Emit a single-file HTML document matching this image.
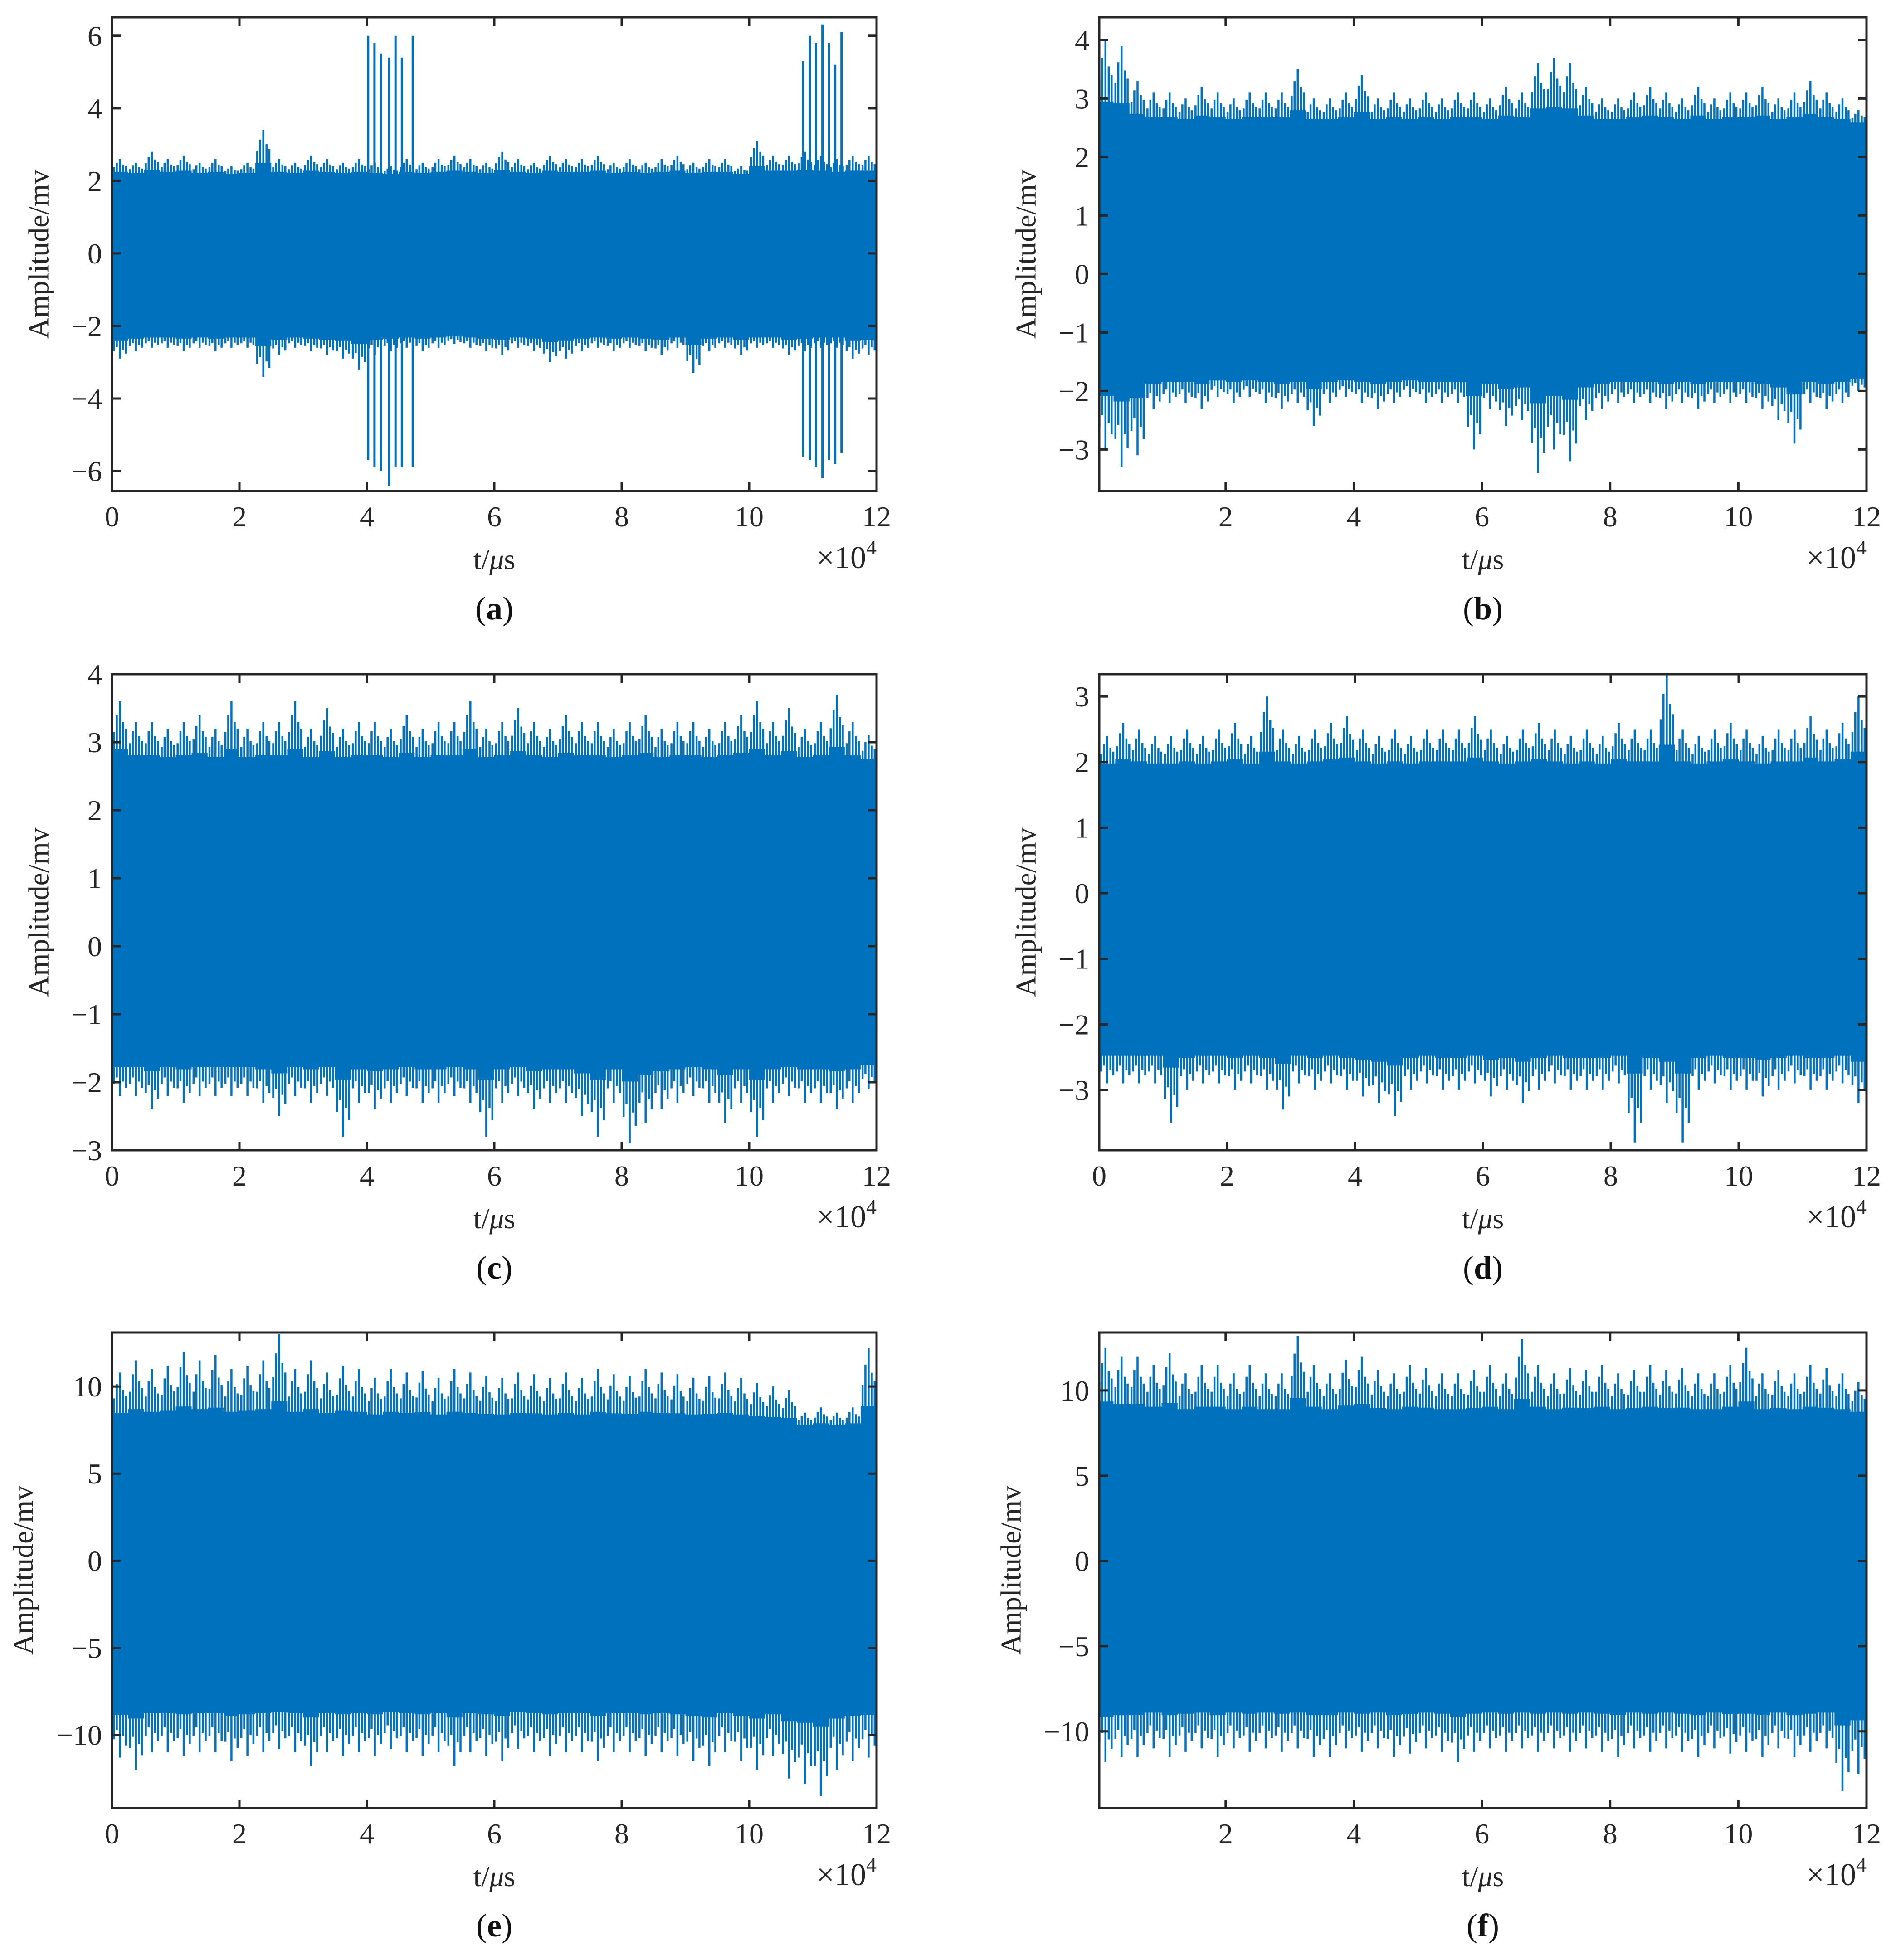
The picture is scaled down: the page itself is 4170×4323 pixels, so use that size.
<!DOCTYPE html>
<html><head><meta charset="utf-8">
<style>
html,body{margin:0;padding:0;background:#fff;}
svg{display:block;font-family:"Liberation Serif",serif;}
</style></head>
<body>
<svg id="fig" width="4170" height="4323" viewBox="0 0 4170 4323" xmlns="http://www.w3.org/2000/svg"></svg>
<script>
// ---------- data (amplitude envelopes, mV, 48 bins over 0..12 x10^4 us) ----------
const xTicksFull = [0,2,4,6,8,10,12];
const xTicksNoZero = [2,4,6,8,10,12];
const yTicksA = [-6,-4,-2,0,2,4,6];
const yTicksB = [-3,-2,-1,0,1,2,3,4];
const yTicksC = [-3,-2,-1,0,1,2,3,4];
const yTicksD = [-3,-2,-1,0,1,2,3];
const yTicksE = [-10,-5,0,5,10];
const yTicksF = [-10,-5,0,5,10];

const upperA = [2.6,2.5,2.8,2.6,2.7,2.5,2.6,2.4,2.5,3.4,2.6,2.5,2.7,2.6,2.5,2.6,2.5,2.4,2.6,2.5,2.6,2.7,2.6,2.5,2.8,2.6,2.5,2.7,2.6,2.6,2.7,2.5,2.6,2.5,2.6,2.7,2.5,2.6,2.6,2.4,3.1,2.7,2.7,2.8,2.7,2.6,2.7,2.7];
const lowerA = [-2.9,-2.7,-2.6,-2.6,-2.7,-2.6,-2.7,-2.6,-2.6,-3.4,-2.8,-2.6,-2.7,-2.8,-2.9,-3.2,-2.8,-2.7,-2.6,-2.7,-2.6,-2.5,-2.6,-2.7,-2.8,-2.6,-2.7,-3.0,-2.9,-2.7,-2.6,-2.7,-2.6,-2.7,-2.8,-2.6,-3.3,-2.7,-2.6,-2.8,-2.6,-2.6,-2.8,-2.7,-2.6,-2.6,-2.9,-2.8];
const coreA = [2.1,-2.2];
const burstT_A = [4.02,4.12,4.22,4.35,4.45,4.55,4.72,10.85,10.95,11.05,11.15,11.25,11.35,11.45];
const burstHi_A = [6.0,5.8,5.5,5.4,6.0,5.4,6.0,5.3,6.0,5.8,6.3,5.8,5.2,6.1];
const burstLo_A = [-5.7,-5.9,-6.0,-6.4,-5.9,-5.9,-5.9,-5.6,-5.7,-5.9,-6.2,-5.7,-5.8,-5.5];

const upperB = [4.0,3.9,3.3,3.1,3.1,3.0,3.2,3.1,3.0,3.1,3.1,3.1,3.5,3.0,3.0,3.1,3.4,3.0,3.1,3.0,3.1,3.0,3.1,3.1,3.0,3.2,3.1,3.6,3.7,3.6,3.2,3.0,3.0,3.1,3.2,3.1,3.0,3.2,3.0,3.1,3.1,3.2,3.0,3.1,3.3,3.1,3.0,2.8];
const lowerB = [-3.0,-3.3,-3.1,-2.3,-2.2,-2.2,-2.3,-2.1,-2.2,-2.1,-2.2,-2.3,-2.2,-2.6,-2.2,-2.1,-2.2,-2.3,-2.2,-2.1,-2.2,-2.2,-2.2,-3.0,-2.3,-2.6,-2.5,-3.4,-3.0,-3.2,-2.5,-2.3,-2.2,-2.2,-2.2,-2.3,-2.2,-2.3,-2.2,-2.2,-2.2,-2.3,-2.5,-2.9,-2.2,-2.3,-2.2,-2.0];
const coreB = [2.5,-1.7];

const upperC = [3.6,3.3,3.3,3.2,3.3,3.4,3.2,3.6,3.2,3.3,3.3,3.6,3.2,3.5,3.2,3.3,3.3,3.2,3.4,3.2,3.3,3.3,3.6,3.2,3.3,3.5,3.3,3.2,3.4,3.3,3.3,3.2,3.3,3.4,3.2,3.3,3.3,3.2,3.3,3.4,3.6,3.3,3.5,3.2,3.3,3.7,3.3,3.1];
const lowerC = [-2.2,-2.2,-2.4,-2.2,-2.3,-2.2,-2.2,-2.2,-2.2,-2.3,-2.5,-2.2,-2.3,-2.2,-2.8,-2.3,-2.4,-2.3,-2.2,-2.3,-2.3,-2.2,-2.3,-2.8,-2.3,-2.2,-2.4,-2.3,-2.3,-2.5,-2.8,-2.3,-2.9,-2.6,-2.4,-2.3,-2.2,-2.3,-2.6,-2.3,-2.8,-2.3,-2.2,-2.3,-2.3,-2.4,-2.3,-2.1];
const coreC = [2.6,-1.6];

const upperD = [2.4,2.6,2.5,2.4,2.4,2.5,2.4,2.5,2.6,2.4,3.0,2.5,2.4,2.5,2.6,2.7,2.5,2.4,2.5,2.4,2.5,2.5,2.5,2.7,2.5,2.4,2.5,2.6,2.5,2.4,2.5,2.4,2.6,2.5,2.5,3.35,2.5,2.4,2.5,2.6,2.5,2.4,2.5,2.5,2.7,2.5,2.6,3.0];
const lowerD = [-2.9,-2.9,-2.9,-2.9,-3.5,-3.0,-2.9,-2.9,-3.0,-2.9,-3.0,-3.3,-2.9,-3.0,-2.9,-3.0,-3.1,-3.2,-3.4,-3.0,-2.9,-3.0,-3.0,-2.9,-3.1,-3.0,-3.2,-3.0,-2.9,-3.0,-3.0,-3.0,-2.9,-3.8,-3.0,-3.2,-3.8,-3.0,-2.9,-3.0,-3.0,-3.1,-3.0,-2.9,-3.0,-3.0,-2.9,-3.2];
const coreD = [1.8,-2.3];

const upperE = [10.8,11.5,11.0,11.2,12.0,11.5,11.8,11.0,11.2,11.5,13.0,11.0,11.5,10.8,11.2,11.0,10.5,11.0,10.8,10.9,10.5,11.0,10.8,10.6,10.5,10.8,10.7,10.5,10.8,10.5,11.0,10.7,10.6,11.0,10.8,10.7,10.5,10.6,10.8,10.5,10.2,10.0,9.8,8.5,8.8,8.5,8.8,12.2];
const lowerE = [-11.3,-12.0,-11.0,-11.0,-11.2,-11.0,-11.0,-11.5,-11.2,-11.0,-10.8,-11.0,-11.8,-11.0,-11.2,-11.0,-11.2,-10.8,-11.0,-11.2,-11.0,-11.8,-11.0,-11.2,-11.5,-10.8,-11.0,-11.2,-11.0,-11.0,-11.5,-11.0,-11.0,-11.2,-11.0,-11.2,-11.5,-11.8,-11.0,-11.5,-12.0,-11.2,-12.5,-12.8,-13.5,-12.0,-11.5,-11.3];
const coreE = [7.5,-7.8];

const upperF = [12.5,12.0,12.0,11.5,12.2,11.0,11.5,11.5,11.0,11.5,11.0,11.0,13.2,11.5,11.0,11.8,12.0,11.2,11.0,11.5,11.3,11.0,11.0,11.2,11.5,11.0,13.0,11.5,11.0,11.3,11.2,11.5,11.0,11.2,11.5,11.2,11.3,11.0,11.0,11.5,12.5,11.0,11.2,11.0,11.5,11.3,11.0,10.5];
const lowerF = [-11.8,-11.5,-11.5,-11.0,-11.5,-11.2,-11.0,-11.5,-11.0,-11.2,-11.0,-11.2,-11.0,-11.5,-11.5,-11.0,-11.2,-11.0,-11.5,-11.3,-11.0,-11.2,-11.8,-11.2,-11.0,-11.2,-11.0,-11.2,-11.0,-11.2,-11.0,-11.2,-11.5,-11.0,-11.2,-11.0,-11.2,-11.5,-11.0,-11.3,-11.2,-11.5,-11.0,-11.5,-11.2,-11.0,-13.5,-12.5];
const coreF = [8.0,-8.0];

// ---------- layout ----------
const NS = "http://www.w3.org/2000/svg";
const svg = document.getElementById('fig');
const BLUE = "#0072BD";
function mk(tag, attrs, parent){
  const e = document.createElementNS(NS, tag);
  for (const k in attrs) e.setAttribute(k, attrs[k]);
  (parent||svg).appendChild(e);
  return e;
}

const panels = [
  {id:'a', L:247, R:1933, T:38, B:1083, xmin:0, xmax:12, ymin:-6.55, ymax:6.51, xt:xTicksFull, yt:yTicksA, up:upperA, lo:lowerA, core:coreA, bt:burstT_A, bh:burstHi_A, bl:burstLo_A, ylx:92},
  {id:'b', L:2424, R:4116, T:38, B:1083, xmin:0.027, xmax:12, ymin:-3.71, ymax:4.39, xt:xTicksNoZero, yt:yTicksB, up:upperB, lo:lowerB, core:coreB, ylx:2269},
  {id:'c', L:247, R:1933, T:1487, B:2537, xmin:0, xmax:12, ymin:-3, ymax:4, xt:xTicksFull, yt:yTicksC, up:upperC, lo:lowerC, core:coreC, ylx:92},
  {id:'d', L:2424, R:4116, T:1487, B:2537, xmin:0, xmax:12, ymin:-3.92, ymax:3.34, xt:xTicksFull, yt:yTicksD, up:upperD, lo:lowerD, core:coreD, ylx:2269},
  {id:'e', L:247, R:1933, T:2939, B:3988, xmin:0, xmax:12, ymin:-14.2, ymax:13.1, xt:xTicksFull, yt:yTicksE, up:upperE, lo:lowerE, core:coreE, ylx:58},
  {id:'f', L:2424, R:4116, T:2939, B:3988, xmin:0.027, xmax:12, ymin:-14.5, ymax:13.4, xt:xTicksNoZero, yt:yTicksF, up:upperF, lo:lowerF, core:coreF, ylx:2236}
];

panels.forEach(p => {
  const g = mk('g', {});
  
  
  const sx = v => p.L + (v - p.xmin) / (p.xmax - p.xmin) * (p.R - p.L);
  const sy = v => p.B - (v - p.ymin) / (p.ymax - p.ymin) * (p.B - p.T);

  const cp = mk('clipPath', {id:'clip-' + p.id}, g);
  mk('rect', {x:p.L, y:p.T, width:p.R-p.L, height:p.B-p.T}, cp);

  const sg = mk('g', {'clip-path':'url(#clip-' + p.id + ')'}, g);
  
  

  const n = p.up.length;
  const bw = 12 / n;
  const core = mk('rect', {x:sx(0), y:sy(p.core[0]), width:sx(12)-sx(0), height:sy(p.core[1])-sy(p.core[0]), fill:BLUE}, sg);
  
  
  let d = '';
  const fr = [0.12,0.3,0.5,0.7,0.88];
  const wt = [0.55,0.8,1.0,0.7,0.6];
  const wl = [0.7,0.55,1.0,0.65,0.8];
  for (let i = 0; i < n; i++) {
    const t0 = i * bw;
    for (let k = 0; k < fr.length; k++) {
      const x = sx(t0 + fr[k] * bw).toFixed(1);
      const hi = p.core[0] + (p.up[i] - p.core[0]) * wt[k];
      const lo = p.core[1] + (p.lo[i] - p.core[1]) * wl[k];
      d += 'M' + x + ' ' + sy(hi).toFixed(1) + 'V' + sy(lo).toFixed(1);
    }
    const hiMid = p.core[0] + (p.up[i] - p.core[0]) * 0.35;
    const loMid = p.core[1] + (p.lo[i] - p.core[1]) * 0.35;
    d += 'M' + sx(t0 + bw*0.5).toFixed(1) + ' ' + sy(hiMid).toFixed(1) + 'V' + sy(loMid).toFixed(1);
  }
  const sp = mk('path', {d:d, stroke:BLUE, 'stroke-width':4.5, fill:'none'}, sg);
  
  
  let d2 = '';
  for (let i = 0; i < n; i++) {
    const t0 = i * bw;
    const hi = p.core[0] + (p.up[i] - p.core[0]) * 0.3;
    const lo = p.core[1] + (p.lo[i] - p.core[1]) * 0.3;
    d2 += 'M' + sx(t0).toFixed(1) + ' ' + sy(hi).toFixed(1) + 'H' + sx(t0+bw).toFixed(1) + 'V' + sy(lo).toFixed(1) + 'H' + sx(t0).toFixed(1) + 'Z';
  }
  const mb = mk('path', {d:d2, fill:BLUE}, sg);
  
  
  if (p.bt) {
    let d3 = '';
    for (let i = 0; i < p.bt.length; i++) {
      d3 += 'M' + sx(p.bt[i]).toFixed(1) + ' ' + sy(p.bh[i]).toFixed(1) + 'V' + sy(p.bl[i]).toFixed(1);
    }
    const bp = mk('path', {d:d3, stroke:BLUE, 'stroke-width':5, fill:'none'}, sg);
    
    
  }

  const box = mk('rect', {x:p.L, y:p.T, width:p.R-p.L, height:p.B-p.T, fill:'none', stroke:'#262626', 'stroke-width':5}, g);
  
  

  let td = '';
  p.xt.forEach(v => { const x = sx(v); td += 'M'+x+' '+p.B+'v-19M'+x+' '+p.T+'v19'; });
  p.yt.forEach(v => { const y = sy(v); td += 'M'+p.L+' '+y+'h19M'+p.R+' '+y+'h-19'; });
  const tk = mk('path', {d:td, stroke:'#262626', 'stroke-width':5, fill:'none'}, g);
  
  

  p.xt.forEach(v => {
    const t = mk('text', {x:sx(v), y:p.B+78, 'font-size':64, 'text-anchor':'middle', fill:'#262626'}, g);
    t.textContent = String(v);
    
    
  });
  p.yt.forEach(v => {
    const t = mk('text', {x:p.L-22, y:sy(v)+22, 'font-size':64, 'text-anchor':'end', fill:'#262626'}, g);
    t.textContent = v < 0 ? '\u2212' + Math.abs(v) : String(v);
    
    
  });

  const cx = (p.L + p.R) / 2;
  const xl = mk('text', {x:cx, y:p.B+172, 'font-size':64, 'text-anchor':'middle', fill:'#262626'}, g);
  xl.innerHTML = 't/<tspan font-style="italic">\u03bc</tspan>s';
  
  

  const ex = mk('text', {x:p.R, y:p.B+170, 'font-size':70, 'text-anchor':'end', fill:'#262626'}, g);
  ex.innerHTML = '\u00d710<tspan font-size="46" dy="-30">4</tspan>';
  
  

  const cy = (p.T + p.B) / 2;
  const yl = mk('text', {x:p.ylx, y:cy, 'font-size':64, 'text-anchor':'middle', fill:'#262626', transform:'rotate(-90 '+p.ylx+' '+cy+')', 'dominant-baseline':'middle'}, g);
  yl.textContent = 'Amplitude/mv';
  
  

  const cap = mk('text', {x:cx, y:p.B+283, 'font-size':72, 'text-anchor':'middle', fill:'#111'}, g);
  cap.innerHTML = '(<tspan font-weight="bold">' + p.id + '</tspan>)';
  
  
});
</script>
</body></html>
